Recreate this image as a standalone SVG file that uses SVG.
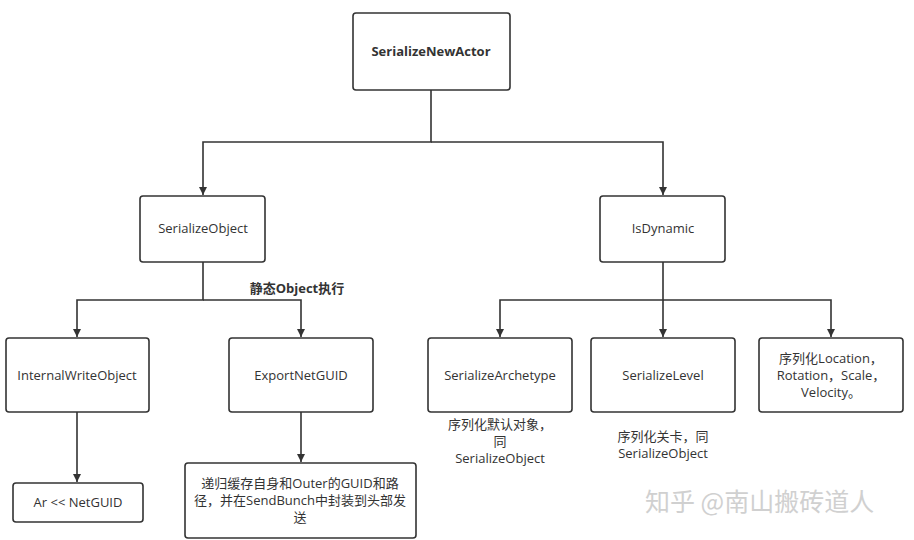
<svg xmlns="http://www.w3.org/2000/svg" width="914" height="540" viewBox="0 0 914 540">
<style>
.box{fill:#fff;stroke:#333;stroke-width:1.6}
.t{font-family:"Open Sans","Noto Sans CJK SC",sans-serif;font-size:13px;fill:#333;text-anchor:middle}
.b{font-weight:bold}
.ln{fill:none;stroke:#333;stroke-width:1.6}
.wm{font-family:"Noto Sans CJK SC",sans-serif;font-size:25px;fill:#d0d0d0;text-anchor:start}
</style>
<defs>
<marker id="ar" viewBox="0 0 10 10" refX="10" refY="5" markerWidth="8" markerHeight="8" markerUnits="userSpaceOnUse" orient="auto">
<path d="M0,0 L10,5 L0,10 z" fill="#333"/>
</marker>
</defs>
<rect width="914" height="540" fill="#fff"/>
<g id="connectors">
<path class="ln" d="M431,90 V142 H203 V195" marker-end="url(#ar)"/>
<path class="ln" d="M431,142 H663 V195" marker-end="url(#ar)"/>
<path class="ln" d="M203,262 V300 H77 V337" marker-end="url(#ar)"/>
<path class="ln" d="M203,300 H301 V337" marker-end="url(#ar)"/>
<path class="ln" d="M663,262 V300 H500 V337" marker-end="url(#ar)"/>
<path class="ln" d="M663,300 V337" marker-end="url(#ar)"/>
<path class="ln" d="M663,300 H831 V337" marker-end="url(#ar)"/>
<path class="ln" d="M77,412 V482" marker-end="url(#ar)"/>
<path class="ln" d="M301,412 V462" marker-end="url(#ar)"/>
<text class="t b" x="297" y="293">静态Object执行</text>
</g>
<g id="n_newactor"><rect class="box" x="353" y="13" width="157" height="77" rx="3"/><text class="t b" x="431" y="56" font-size="14">SerializeNewActor</text></g>
<g id="n_serobj"><rect class="box" x="140" y="196" width="125" height="66" rx="3"/><text class="t" x="203" y="233">SerializeObject</text></g>
<g id="n_isdyn"><rect class="box" x="600" y="196" width="125" height="66" rx="3"/><text class="t" x="663" y="233">IsDynamic</text></g>
<g id="n_iwo"><rect class="box" x="6" y="338" width="143" height="74" rx="3"/><text class="t" x="77" y="380">InternalWriteObject</text></g>
<g id="n_export"><rect class="box" x="229" y="338" width="144" height="74" rx="3"/><text class="t" x="301" y="380">ExportNetGUID</text></g>
<g id="n_ar"><rect class="box" x="13" y="483" width="130" height="39" rx="3"/><text class="t" x="78" y="507">Ar &lt;&lt; NetGUID</text></g>
<g id="n_recur"><rect class="box" x="185" y="463" width="231" height="75" rx="3"/>
<text class="t" x="300" y="488">递归缓存自身和Outer的GUID和路</text>
<text class="t" x="300" y="505">径，并在SendBunch中封装到头部发</text>
<text class="t" x="300" y="522">送</text></g>
<g id="n_arch"><rect class="box" x="428" y="338" width="144" height="74" rx="3"/><text class="t" x="500" y="380">SerializeArchetype</text></g>
<g id="n_level"><rect class="box" x="591" y="338" width="144" height="74" rx="3"/><text class="t" x="663" y="380">SerializeLevel</text></g>
<g id="n_loc"><rect class="box" x="759" y="338" width="144" height="74" rx="3"/>
<text class="t" x="831" y="363">序列化Location，</text>
<text class="t" x="831" y="380">Rotation，Scale，</text>
<text class="t" x="831" y="397">Velocity。</text></g>
<g id="l_arch">
<text class="t" x="500" y="429">序列化默认对象，</text>
<text class="t" x="500" y="446">同</text>
<text class="t" x="500" y="463">SerializeObject</text></g>
<g id="l_level">
<text class="t" x="663" y="441">序列化关卡，同</text>
<text class="t" x="663" y="458">SerializeObject</text></g>
<text class="wm" x="645" y="511">知乎 @南山搬砖道人</text>
</svg>
